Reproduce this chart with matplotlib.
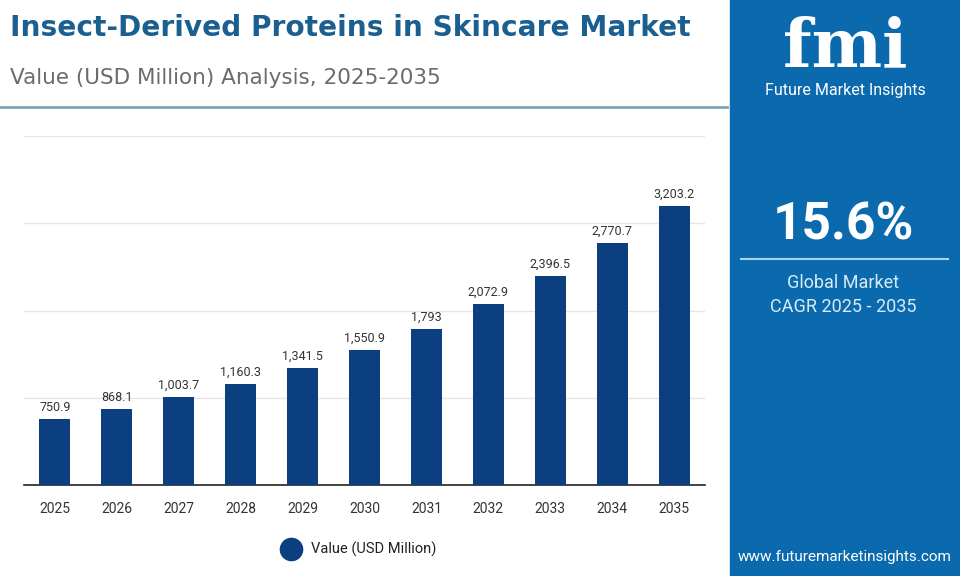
import numpy as np
import matplotlib.pyplot as plt
from matplotlib.patches import Rectangle

# data
years = ['2025', '2026', '2027', '2028', '2029', '2030',
         '2031', '2032', '2033', '2034', '2035']
values = [750.9, 868.1, 1003.7, 1160.3, 1341.5, 1550.9,
          1793, 2072.9, 2396.5, 2770.7, 3203.2]
labels = ['750.9', '868.1', '1,003.7', '1,160.3', '1,341.5', '1,550.9',
          '1,793', '2,072.9', '2,396.5', '2,770.7', '3,203.2']
series_name = 'Value (USD Million)'
cagr = '15.6%'

bar_col = '#0b3f80'
title_col = '#1b5f91'
panel_col = '#0b6aae'

plt.rcParams['font.family'] = ['Roboto', 'DejaVu Sans']

fig = plt.figure(figsize=(9.6, 5.76), dpi=100)

# header
fig.text(10/960, 1-28/576, 'Insect-Derived Proteins in Skincare Market',
         fontsize=20.2, fontweight='bold', family='DejaVu Sans', color=title_col,
         va='center', ha='left')
fig.text(10/960, 1-78/576, 'Value (USD Million) Analysis, 2025-2035',
         fontsize=15.5, family='DejaVu Sans', color='#6b6b6b', va='center', ha='left')
fig.add_artist(plt.Line2D([0, 727/960], [1-107/576]*2, color='#7fa3b5', lw=2,
                          transform=fig.transFigure))

# right panel
fig.add_artist(Rectangle((730/960, 0), 230/960, 1, transform=fig.transFigure,
                         color=panel_col, zorder=0))
fig.text(845/960, 1-80/576, 'fmi', fontsize=48, fontweight='bold', family='DejaVu Serif',
         color='white', ha='center', va='bottom')
fig.text(845/960, 1-90/576, 'Future Market Insights', fontsize=11.5,
         color='white', ha='center', va='center')
fig.text(843/960, 1-225/576, cagr, fontsize=37, fontweight='bold',
         color='white', ha='center', va='center')
fig.add_artist(plt.Line2D([741/960, 948/960], [1-259/576]*2, color='#a9d3ef', lw=1.5,
                          transform=fig.transFigure))
fig.text(843/960, 1-283/576, 'Global Market', fontsize=13,
         color='#d6ebf7', ha='center', va='center')
fig.text(843/960, 1-307/576, 'CAGR 2025 - 2035', fontsize=13,
         color='#d6ebf7', ha='center', va='center')
fig.text(845/960, 1-557/576, 'www.futuremarketinsights.com', fontsize=11,
         color='white', ha='center', va='center')

# chart
ax = fig.add_axes([24/960, 91/576, 681/960, 349/576])
x = np.arange(len(years))
ax.bar(x, values, width=0.5, color=bar_col, zorder=3)
for xi, v, lab in zip(x, values, labels):
    ax.text(xi, v + 60, lab, ha='center', va='bottom', fontsize=9, color='#333333')
ax.set_xlim(-0.5, 10.5)
ax.set_ylim(0, 4000)
ax.set_yticks([0, 1000, 2000, 3000, 4000])
ax.yaxis.grid(True, color='#e6e6e6', lw=1)
ax.set_axisbelow(True)
ax.tick_params(axis='y', left=False, labelleft=False)
ax.tick_params(axis='x', length=0, pad=12, labelsize=10, colors='#333333')
ax.set_xticks(x)
ax.set_xticklabels(years)
for s in ['top', 'right', 'left']:
    ax.spines[s].set_visible(False)
ax.spines['bottom'].set_color('#222222')
ax.spines['bottom'].set_linewidth(1.2)

# legend
fig.add_artist(plt.Line2D([291/960], [1-549/576], marker='o', markersize=16,
                          color=bar_col, transform=fig.transFigure))
fig.text(311/960, 1-549/576, series_name, fontsize=10.5, color='#222222',
         ha='left', va='center')

fig.savefig('out.png', dpi=100)
